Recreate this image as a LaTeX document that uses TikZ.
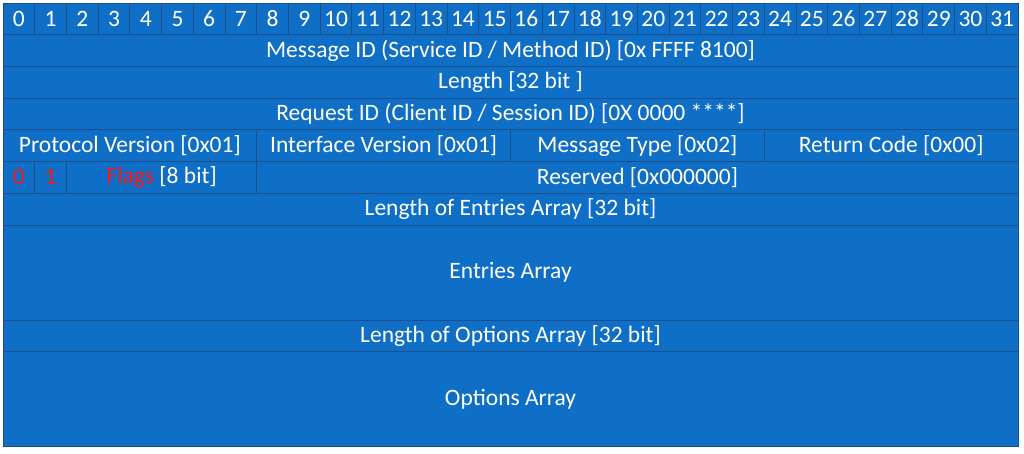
\documentclass[tikz,border=0pt]{standalone}
\usepackage{fontspec}
\setmainfont{Carlito}
\definecolor{cellfill}{HTML}{0F6FC6}
\definecolor{cellline}{HTML}{1A4F8C}
\definecolor{flagred}{HTML}{FF1414}
\newlength\cw \setlength\cw{31.72pt}
\newlength\rh \setlength\rh{31.71pt}
\tikzset{
  cellbox/.style={draw=cellline, line width=0.9pt, fill=cellfill, text=white,
    inner sep=0pt, outer sep=0pt, anchor=north west, font=\fontsize{23.5}{27}\selectfont},
}
\newcommand\mycell[6]{%
  \node[cellbox, minimum width=#4\cw, minimum height=#5\rh] (#1) at ({3pt+#2\cw},{-3pt-#3\rh}) {\raisebox{-1.5pt}{#6}};}
\begin{document}
\begin{tikzpicture}
\useasboundingbox[fill=white] (0pt,0pt) rectangle (1024pt,-453pt);
% header row
\foreach \i in {0,...,31} {
  \node[cellbox, minimum width=\cw, minimum height=\rh] (h\i) at ({3pt+\i\cw},{-3pt}) {\raisebox{-1.5pt}{\i}};
}
\mycell{msgid}{0}{1}{32}{1}{Message ID (Service ID / Method ID) [0x FFFF 8100]}
\mycell{len}{0}{2}{32}{1}{Length [32 bit ]}
\mycell{reqid}{0}{3}{32}{1}{Request ID (Client ID / Session ID) [0X 0000 ****]}
\mycell{proto}{0}{4}{8}{1}{Protocol Version [0x01]}
\mycell{iface}{8}{4}{8}{1}{Interface Version [0x01]}
\mycell{mtype}{16}{4}{8}{1}{Message Type [0x02]}
\mycell{rcode}{24}{4}{8}{1}{Return Code [0x00]}
\mycell{f0}{0}{5}{1}{1}{\textcolor{flagred}{0}}
\mycell{f1}{1}{5}{1}{1}{\textcolor{flagred}{1}}
\mycell{flags}{2}{5}{6}{1}{\textcolor{flagred}{Flags} [8 bit]}
\mycell{resv}{8}{5}{24}{1}{Reserved [0x000000]}
\mycell{lenent}{0}{6}{32}{1}{Length of Entries Array [32 bit]}
\mycell{ent}{0}{7}{32}{3}{Entries Array}
\mycell{lenopt}{0}{10}{32}{1}{Length of Options Array [32 bit]}
\mycell{opt}{0}{11}{32}{3}{Options Array}
\end{tikzpicture}
\end{document}
